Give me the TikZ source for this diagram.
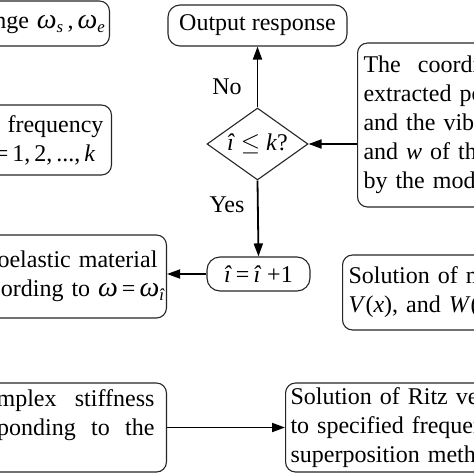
\documentclass[tikz,border=0pt]{standalone}
\usepackage{fontspec}
\usepackage{amsmath}
\setmainfont{Liberation Serif}
\usetikzlibrary{shapes.geometric,arrows.meta}
\newcommand\fs{\fontsize{24}{29}\selectfont}
\newcommand\mi[1]{\textit{#1}}
\newcommand\om{\mbox{\fontsize{28}{29}\selectfont\itshape ω}}
\begin{document}
\begin{tikzpicture}[x=1pt,y=-1pt,
  box/.style={draw=black!85, line width=1.1pt, rounded corners=10pt, font=\fs, inner ysep=0pt},
  lbox/.style={box, anchor=east, text width=600pt, align=right},
  rbox/.style={box, anchor=west, text width=600pt, align=left},
  arr/.style={line width=1.8pt, -{Triangle[length=13pt,width=9pt]}},
  lbl/.style={font=\fs, inner sep=0pt}]
\useasboundingbox (0,0) rectangle (474,474);
\clip (0,0) rectangle (474,474);
\fill[white] (0,0) rectangle (474,474);

% left column
\node[lbox, minimum height=45pt, inner xsep=4pt]
  (tl) at (110,23.5) {Frequency range $\om_{\mi{s}}$\,,\,$\om_{\mi{e}}$};
\node[lbox, minimum height=70pt, inner xsep=8pt]
  (freq) at (112,140) {Calculate natural frequency\\ $\om_{\mi{î}}$, \mi{î}\,=\,1,\,2,\,...,\,\mi{k}\kern8pt};
\node[lbox, minimum height=83pt, inner xsep=2pt]
  (visc) at (167,276.5) {Parameters of viscoelastic material\kern7pt\\ according to \om\,=\,$\om_{\mi{î}}$};
\node[box, anchor=east, minimum width=240pt, minimum height=89pt, text width=216pt, inner xsep=12pt, align=left]
  (cplx) at (167,427.5) {A\hfill complex\hfill stiffness\\ corresponding\hfill to\hfill the\\ mode};

% centre column
\node[box, rounded corners=12pt, minimum width=179pt, minimum height=41pt, inner xsep=0pt]
  (out) at (257.5,25.5) {Output response};
\node[draw=black!85, line width=1.1pt, diamond, aspect=1.4, inner sep=0pt, minimum width=101pt, minimum height=72pt, font=\fs]
  (dec) at (257.5,144) {\mi{î} $\le$ \mi{k}?};
\node[box, rounded corners=13pt, minimum width=103pt, minimum height=34pt, inner xsep=0pt]
  (inc) at (258.5,274) {\mi{î}\,=\,\mi{î}\ +1};
\node[lbl] (no) at (227,87) {No};
\node[lbl] (yes) at (227,205) {Yes};

% right column
\node[rbox, minimum height=164pt, inner xsep=6pt]
  (coord) at (357,125) {The\hspace{9pt} coordinates of the\\ extracted points are\\ and the vibration modes\\ and \mi{w} of the structure\\ by the modal analysis};
\node[rbox, minimum height=75pt, inner xsep=6pt]
  (sol) at (342,292.5) {Solution of modal functions \mi{U}(\mi{x}),\\ \mi{V}(\mi{x}), and \mi{W}(\mi{x})};
\node[rbox, minimum height=89pt, inner xsep=5pt]
  (ritz) at (285,427.5) {Solution of Ritz vectors corresponding\\ to specified frequencies by the modal\\ superposition method};

% connectors
\draw[arr] (dec.north) -- (out.south);
\draw[arr] (dec.east -| coord.west) -- (dec.east);
\draw[arr] (dec.south) -- (inc.north);
\draw[arr] (inc.west) -- (inc.west -| visc.east);
\draw[arr] (cplx.east) -- (ritz.west);
\end{tikzpicture}
\end{document}
